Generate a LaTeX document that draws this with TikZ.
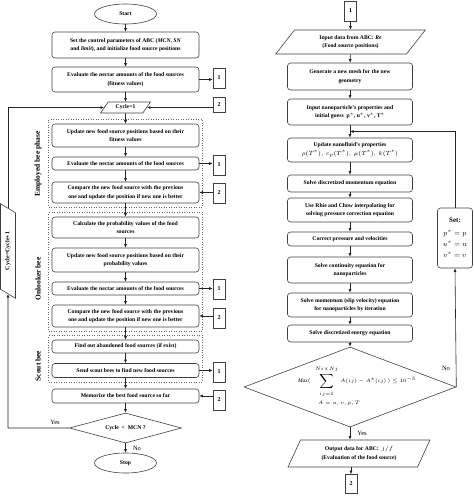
\documentclass[tikz,border=0pt]{standalone}
\usepackage{fontspec}
\setmainfont{Liberation Serif}
\usetikzlibrary{shapes.geometric,arrows.meta,fit,calc}
\begin{document}
\begin{tikzpicture}[x=1pt,y=-1pt,
  every node/.style={font=\fontsize{5.7}{8.6}\selectfont\bfseries},
  box/.style={draw=black!75, line width=0.6pt, rounded corners=3pt, minimum width=147pt, align=center, inner sep=1pt},
  rbox/.style={box, minimum width=125pt},
  numbox/.style={draw=black!75, line width=0.6pt, minimum width=12pt, minimum height=20pt, inner sep=0pt, font=\fontsize{6}{7}\selectfont\bfseries},
  term/.style={draw=black!75, line width=0.6pt, ellipse, minimum width=62pt, minimum height=20pt, inner sep=0pt},
  para/.style={draw=black!75, line width=0.6pt, trapezium, trapezium stretches=true, inner sep=0pt, align=center},
  arr/.style={draw=black!85, line width=0.6pt, -{Latex[length=3.5pt,width=3pt]}},
  phase/.style={draw=black!60, dotted, line width=0.5pt, inner xsep=3pt, inner ysep=4pt},
  lab/.style={rotate=90, font=\fontsize{7.5}{9}\selectfont\bfseries},
  plain/.style={font=\fontsize{6.5}{8}\selectfont},
  mth/.style={font=\fontsize{5.5}{8}\selectfont, inner sep=0.5pt},
]
\useasboundingbox (0,0) rectangle (474,496);

% ---------------- left column ----------------
\node[term] (start) at (125.5,14) {Start};
\node[box, minimum height=26pt] (setp) at (125.5,45) {Set the control parameters of ABC (\textit{MCN}, \textit{SN}\\and \textit{limit}), and initialize food source positions};
\node[box, minimum height=25pt] (ev0) at (125.5,79.5) {Evaluate the nectar amounts of the food sources\\(fitness values)};
\node[para, trapezium left angle=50, trapezium right angle=130, minimum width=50pt, minimum height=11pt] (cyc1) at (125.5,107.5) {Cycle=1};
\node[box, minimum height=23pt] (upd1) at (125.5,135.5) {Update new food source positions based on their\\fitness values};
\node[box, minimum height=13pt] (ev1) at (125.5,163.5) {Evaluate the nectar amounts of the food sources};
\node[box, minimum height=21pt] (cmp1) at (125.5,192.5) {Compare the new food source with the previous\\one and update the position if new one is better};
\node[box, minimum height=21pt] (calc) at (125.5,227.5) {Calculate the probability values of the food\\sources};
\node[box, minimum height=24pt] (upd2) at (125.5,260) {Update new food source positions based on their\\probability values};
\node[box, minimum height=13pt] (ev2) at (125.5,288.5) {Evaluate the nectar amounts of the food sources};
\node[box, minimum height=22pt] (cmp2) at (125.5,316) {Compare the new food source with the previous\\one and update the position if new one is better};
\node[box, minimum height=13pt] (find) at (125.5,346.5) {Find out abandoned food sources (if exist)};
\node[box, minimum height=14pt] (send) at (125.5,370.5) {Send scout bees to find new food sources};
\node[box, minimum height=14pt] (mem) at (125.5,396) {Memorize the best food source so far};
\node[draw=black!75, line width=0.6pt, diamond, aspect=3.7, minimum width=112pt, minimum height=30pt, inner sep=0pt] (dia1) at (125.5,428) {Cycle\ \ <\ \ MCN ?};
\node[term] (stop) at (125.5,463) {Stop};

\node[phase, fit=(upd1)(cmp1)] (emp) {};
\node[phase, fit=(calc)(cmp2)] (onl) {};
\node[phase, fit=(find)(send)] (sco) {};
\node[lab] (lemp) at (38,164) {Employed bee phase};
\node[lab] (lonl) at (38,279) {Onlooker bee};
\node[lab] (lsco) at (38,366) {Scout bee};

\node[para, rotate=90, trapezium left angle=50, trapezium right angle=130, minimum width=95pt, minimum height=15pt, font=\fontsize{6}{7}\selectfont\bfseries] (cinc) at (8,251) {Cycle=Cycle+1};

\node[numbox] (n1a) at (219,78) {1};
\node[numbox, minimum height=15pt] (n2a) at (219,104.5) {2};
\node[numbox] (n1b) at (219,165) {1};
\node[numbox] (n2b) at (219,193) {2};
\node[numbox] (n1c) at (219,289) {1};
\node[numbox] (n2c) at (219,318) {2};
\node[numbox] (n1d) at (219,372) {1};
\node[numbox] (n2d) at (219,400) {2};

\node[plain] (yes1) at (55,422) {Yes};
\node[plain] (no1) at (137,448) {No};

\draw[arr] (start) -- (setp);
\draw[arr] (setp) -- (ev0);
\draw[arr] (ev0) -- (cyc1);
\draw[arr] (cyc1) -- (upd1);
\draw[arr] (upd1) -- (ev1);
\draw[arr] (ev1) -- (cmp1);
\draw[arr] (cmp1) -- (calc);
\draw[arr] (calc) -- (upd2);
\draw[arr] (upd2) -- (ev2);
\draw[arr] (ev2) -- (cmp2);
\draw[arr] (cmp2) -- (find);
\draw[arr] (find) -- (send);
\draw[arr] (send) -- (mem);
\draw[arr] (mem) -- (dia1);
\draw[arr] (dia1) -- (stop);

\draw[arr] (ev0.east) -- (ev0.east -| n1a.west);
\draw[arr] (ev1.east) -- (ev1.east -| n1b.west);
\draw[arr] (ev2.east) -- (ev2.east -| n1c.west);
\draw[arr] (send.east) -- (send.east -| n1d.west);
\draw[arr] (n2a.west |- cyc1.east) -- (cyc1.east);
\draw[arr] (n2b.west |- cmp1.east) -- (cmp1.east);
\draw[arr] (n2c.west |- cmp2.east) -- (cmp2.east);
\draw[arr] (n2d.west |- mem.east) -- (mem.east);

\draw[arr] (dia1.west) -- (dia1.west -| cinc.center) -- (cinc.west);
\draw[arr] (cinc.east) |- (cyc1.west);

% ---------------- right column ----------------
\node[numbox] (r1) at (350.5,11) {1};
\node[para, trapezium left angle=53, trapezium right angle=127, minimum width=150pt, minimum height=24pt] (inp) at (350.5,42) {Input data from ABC: \textit{Re}\\(Food source positions)};
\node[rbox, minimum height=27pt] (mesh) at (350,76.5) {Generate a new mesh for the new\\geometry};
\node[rbox, minimum height=26pt] (nano) at (350,112) {Input nanoparticle's properties and\\initial guess\ \ p$^*$,\ u$^*$,\ v$^*$,\ T$^*$};
\node[rbox, minimum height=24pt] (updn) at (350,150) {Update nanofluid's properties\\$\rho(T^*),\ c_p(T^*),\ \mu(T^*),\ k(T^*)$};
\node[rbox, minimum height=17pt] (mom) at (350,183.5) {Solve discretized momentum equation};
\node[rbox, minimum height=24pt] (rhie) at (350,210) {Use Rhie and Chow interpolating for\\solving pressure correction equation};
\node[rbox, minimum height=14pt] (corr) at (350,239) {Correct pressure and velocities};
\node[rbox, minimum height=26pt] (cont) at (350,270) {Solve continuity equation for\\nanoparticles};
\node[rbox, minimum height=24pt] (slip) at (350,305) {Solve momentum (slip velocity) equation\\for nanoparticles by iteration};
\node[rbox, minimum height=17pt] (energy) at (350,333.5) {Solve discretized energy equation};
\node[draw=black!75, line width=0.6pt, diamond, minimum width=212pt, minimum height=80pt, inner sep=0pt] (dia2) at (350,387) {};
\node[mth] (crit) at (357,382) {$\mathit{Max}(\hspace{4.5pt}\displaystyle\sum_{\rule{0pt}{4.5pt}ij=1}^{Ni\times Nj\rule[-1.8pt]{0pt}{0pt}}\hspace{1pt} A(ij)-A^{*}(ij)\,)\le 10^{-5}$};
\node[mth] (vars) at (339,403) {$A=u,v,p,T$};
\node[para, trapezium left angle=61, trapezium right angle=119, minimum width=142pt, minimum height=27pt] (out) at (359,453.5) {Output data for ABC:\ \ $j/f$\\(Evaluation of the food source)};
\node[numbox, minimum height=19pt] (r2) at (351,484) {2};
\node[draw=black!75, line width=0.6pt, rounded corners=3pt, minimum width=35pt, minimum height=60pt, align=center, inner sep=1pt, font=\fontsize{7}{11}\selectfont] (set) at (455,238) {\textbf{Set:}\\[2pt]$p^*=p$\\$u^*=u$\\$v^*=v$};

\node[plain] (yes2) at (362,433) {Yes};
\node[plain] (no2) at (446,368) {No};

\draw[arr] (r1) -- (inp);
\draw[arr] (inp) -- (mesh);
\draw[arr] (mesh) -- (nano);
\draw[arr] (nano) -- (updn);
\draw[arr] (updn) -- (mom);
\draw[arr] (mom) -- (rhie);
\draw[arr] (rhie) -- (corr);
\draw[arr] (corr) -- (cont);
\draw[arr] (cont) -- (slip);
\draw[arr] (slip) -- (energy);
\draw[arr] (energy) -- (dia2);
\draw[arr] (dia2.south) -- (dia2.south |- out.north);
\draw[arr] (out.south -| r2.north) -- (r2.north);
\draw[arr] (dia2.east) -- (set.south);
\coordinate (fb) at ($(nano.south)!0.5!(updn.north)$);
\draw[arr] (set.north) |- (fb);
\end{tikzpicture}
\end{document}
